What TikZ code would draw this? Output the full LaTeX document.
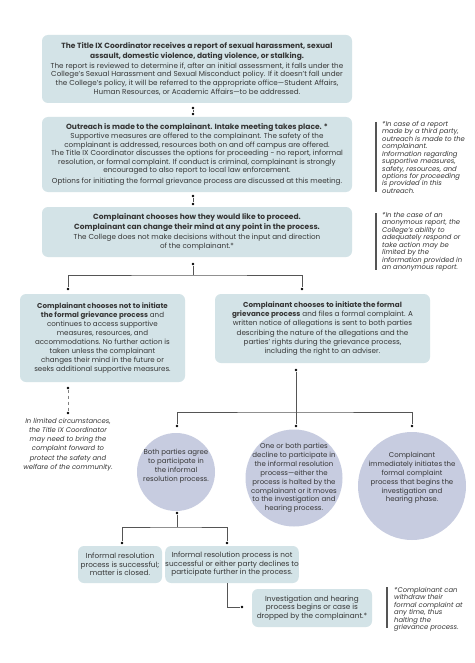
\documentclass[tikz,border=0pt]{standalone}
\usepackage{fontspec}
\setmainfont{Poppins}
\usetikzlibrary{positioning}

\definecolor{boxblue}{HTML}{D3E3E7}
\definecolor{circblue}{HTML}{C7CCE0}
\definecolor{inktext}{HTML}{363636}
\definecolor{wiregray}{HTML}{555555}

\newcommand{\headfont}{\fontsize{7.5}{10}\selectfont\bfseries}
\newcommand{\bodyfont}{\fontsize{7.2}{8.6}\selectfont}
\newcommand{\leftfont}{\fontsize{7.1}{9.0}\selectfont}
\newcommand{\midfont}{\fontsize{7.2}{9.3}\selectfont}
\newcommand{\circfont}{\fontsize{7.0}{8.9}\selectfont}
\newcommand{\smallfont}{\fontsize{7.3}{8.4}\selectfont}
\newcommand{\notefont}{\fontsize{6.8}{7.45}\selectfont\itshape}

\begin{document}
\begin{tikzpicture}[x=1pt, y=-1pt]
        \tikzstyle{box} = [fill=boxblue, rounded corners=6pt, text=inktext, align=flush center, inner sep=0pt];
        \tikzstyle{bubble} = [circle, fill=circblue, inner sep=0pt];
        \tikzstyle{bubbletext} = [text=inktext, align=flush center, inner sep=0pt, font=\circfont];
        \tikzstyle{dot} = [circle, fill=black, inner sep=0pt, minimum size=2.8pt];
        \tikzstyle{wire} = [wiregray, line width=0.8pt];
        \tikzstyle{note} = [text=inktext, align=flush left, anchor=north west, inner sep=0pt, font=\notefont];
        \tikzstyle{bar} = [wiregray, line width=1.1pt];

        \useasboundingbox[fill=white] (0,0) rectangle (474,663);

        % main column
        \node[box, minimum width=310pt, minimum height=68pt, text width=305pt] (report) at (197,69) {
            {\headfont The Title IX Coordinator receives a report of sexual harassment, sexual\\
            assault, domestic violence, dating violence, or stalking.\par}
            \vspace{1pt}
            {\bodyfont The report is reviewed to determine if, after an initial assessment, it falls under the\\
            College's Sexual Harassment and Sexual Misconduct policy. If it doesn't fall under\\
            the College's policy, it will be referred to the appropriate office---Student Affairs,\\
            Human Resources, or Academic Affairs---to be addressed.\par}
        };
        \node[box, minimum width=310pt, minimum height=75pt, text width=305pt] (outreach) at (197,154.5) {
            {\headfont Outreach is made to the complainant. Intake meeting takes place. *\par}
            {\bodyfont Supportive measures are offered to the complainant. The safety of the\\
            complainant is addressed, resources both on and off campus are offered.\\
            The Title IX Coordinator discusses the options for proceeding - no report, informal\\
            resolution, or formal complaint. If conduct is criminal, complainant is strongly\\
            encouraged to also report to local law enforcement.\par}
            \vspace{1.5pt}
            {\bodyfont Options for initiating the formal grievance process are discussed at this meeting.\par}
        };
        \node[box, minimum width=310pt, minimum height=50pt, text width=305pt] (choose) at (197,232) {
            {\headfont Complainant chooses how they would like to proceed.\\
            Complainant can change their mind at any point in the process.\par}
            \vspace{1.5pt}
            {\bodyfont The College does not make decisions without the input and direction\\
            of the complainant.*\par}
        };

        % side notes
        \node[note] (thirdparty) at (382,121) {*In case of a report\\ made by a third party,\\ outreach is made to the\\ complainant.\\ Information regarding\\ supportive measures,\\ safety, resources, and\\ options for proceeding\\ is provided in this\\ outreach.};
        \coordinate (tp-top) at (376,122);
        \coordinate (tp-bot) at (376,192);
        \draw[bar] (tp-top) -- (tp-bot);

        \node[note] (anonymous) at (382,212) {*In the case of an\\ anonymous report, the\\ College's ability to\\ adequately respond or\\ take action may be\\ limited by the\\ information provided in\\ an anonymous report.};
        \coordinate (an-top) at (376,213);
        \coordinate (an-bot) at (376,270);
        \draw[bar] (an-top) -- (an-bot);

        % first split
        \node[box, minimum width=165pt, minimum height=88pt, font=\leftfont] (noinit) at (102.5,338) {
            \textbf{Complainant chooses not to initiate}\\
            \textbf{the formal grievance process} and\\
            continues to access supportive\\
            measures, resources, and\\
            accommodations. No further action is\\
            taken unless the complainant\\
            changes their mind in the future or\\
            seeks additional supportive measures.
        };
        \node[box, minimum width=215pt, minimum height=69pt, font=\midfont] (init) at (322.5,328.5) {
            \textbf{Complainant chooses to initiate the formal}\\
            \textbf{grievance process} and files a formal complaint. A\\
            written notice of allegations is sent to both parties\\
            describing the nature of the allegations and the\\
            parties' rights during the grievance process,\\
            including the right to an adviser.
        };
        \node[note, anchor=north, align=flush center, font=\fontsize{6.8}{9.2}\selectfont\itshape] (limited) at (68,418) {In limited circumstances,\\ the Title IX Coordinator\\ may need to bring the\\ complaint forward to\\ protect the safety and\\ welfare of the community.};

        % second split
        \node[bubble, minimum size=78pt, label={[bubbletext, yshift=6pt]center:Both parties agree\\ to participate in\\ the informal\\ resolution process.}] (agree) at (176,472) {};
        \node[bubble, minimum size=97pt, label={[bubbletext]center:One or both parties\\ decline to participate in\\ the informal resolution\\ process---either the\\ process is halted by the\\ complainant or it moves\\ to the investigation and\\ hearing process.}] (decline) at (294,478) {};
        \node[bubble, minimum size=108pt, label={[bubbletext, yshift=8pt]center:Complainant\\ immediately initiates the\\ formal complaint\\ process that begins the\\ investigation and\\ hearing phase.}] (immediate) at (412,486) {};

        % informal outcomes
        \node[box, minimum width=84pt, minimum height=37pt, font=\smallfont] (success) at (120,564.5) {Informal resolution\\ process is successful;\\ matter is closed.};
        \node[box, minimum width=132pt, minimum height=37pt, font=\smallfont] (fail) at (232,564.5) {Informal resolution process is not\\ successful or either party declines to\\ participate further in the process.};
        \node[box, minimum width=120pt, minimum height=38pt, font=\smallfont] (hearing) at (312,608) {Investigation and hearing\\ process begins or case is\\ dropped by the complainant.*};

        \node[note] (withdraw) at (394,587) {*Complainant can\\ withdraw their\\ formal complaint at\\ any time, thus\\ halting the\\ grievance process.};
        \coordinate (wd-top) at (387,587);
        \coordinate (wd-bot) at (387,628);
        \draw[bar] (wd-top) -- (wd-bot);

        % connectors
        \node[dot] (d1) at (193,108) {};
        \node[dot] (d2) at (193,114) {};
        \node[dot] (d3) at (193,196) {};
        \node[dot] (d4) at (193,204) {};
        \node[dot] (d5) at (193,264) {};
        \node[dot] (d6) at (68,289) {};
        \node[dot] (d7) at (302,289) {};
        \node[dot] (d8) at (68,388) {};
        \node[dot] (d9) at (68,413) {};
        \node[dot] (d10) at (296,370) {};
        \node[dot] (d11) at (177,426) {};
        \node[dot] (d12) at (296,426) {};
        \node[dot] (d13) at (412,426) {};
        \node[dot] (d14) at (177,513) {};
        \node[dot] (d15) at (122,543) {};
        \node[dot] (d16) at (227,543) {};
        \node[dot] (d17) at (242,607) {};
        \coordinate (j1) at (193,275);
        \coordinate (j2) at (296,412);
        \coordinate (j3) at (177,527);
        \coordinate (j4) at (227,607);

        \draw[wire] (d1) -- (d2);
        \draw[wire] (d3) -- (d4);
        \draw[wire] (d5) -- (j1);
        \draw[wire] (d6) |- (j1) -| (d7);
        \draw[wire, gray, dashed] (d8) -- (d9);
        \draw[wire] (d10) -- (d12);
        \draw[wire] (d11) |- (j2) -| (d13);
        \draw[wire] (d14) -- (j3);
        \draw[wire] (d15) |- (j3) -| (d16);
        \draw[wire] (fail.south -| j4) -- (j4) -- (d17);
    \end{tikzpicture}
\end{document}
